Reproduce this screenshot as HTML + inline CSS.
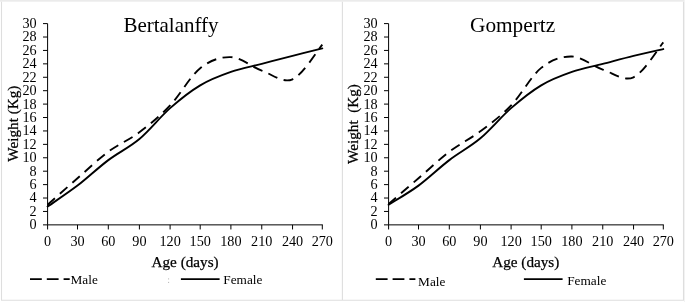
<!DOCTYPE html>
<html><head><meta charset="utf-8"><title>Growth curves</title>
<style>html,body{margin:0;padding:0;background:#fff}svg{display:block}text{font-family:"Liberation Serif",serif;fill:#000}</style>
</head><body>
<svg width="685" height="302" viewBox="0 0 685 302">
<rect x="0" y="0" width="685" height="302" fill="#fff"/>
<rect x="0" y="0" width="685" height="1.7" fill="#ebebeb"/>
<rect x="684" y="0" width="1" height="302" fill="#f3f3f3"/>
<path d="M1.5,1.7 V300 M342.4,1.7 V300 M683.5,1.7 V300 M1,300.2 H684" fill="none" stroke="#dedede" stroke-width="1.1"/>
<path d="M168.6,278.4 v1 M168.6,281.9 v1" stroke="#999" stroke-width="0.8" fill="none"/>
<defs><filter id="soft" x="0" y="0" width="685" height="302" filterUnits="userSpaceOnUse"><feGaussianBlur stdDeviation="0.35"/></filter></defs>
<g filter="url(#soft)">
<path d="M47.60,23.60 V224.86 H322.80" fill="none" stroke="#000" stroke-width="1.0"/>
<path d="M43.00,224.86 H47.60 M43.00,211.44 H47.60 M43.00,198.03 H47.60 M43.00,184.61 H47.60 M43.00,171.19 H47.60 M43.00,157.77 H47.60 M43.00,144.36 H47.60 M43.00,130.94 H47.60 M43.00,117.52 H47.60 M43.00,104.10 H47.60 M43.00,90.69 H47.60 M43.00,77.27 H47.60 M43.00,63.85 H47.60 M43.00,50.43 H47.60 M43.00,37.02 H47.60 M43.00,23.60 H47.60 M47.60,224.86 V229.46 M77.50,224.86 V229.46 M108.30,224.86 V229.46 M139.40,224.86 V229.46 M170.10,224.86 V229.46 M200.20,224.86 V229.46 M230.90,224.86 V229.46 M261.75,224.86 V229.46 M292.55,224.86 V229.46 M322.30,224.86 V229.46 " fill="none" stroke="#000" stroke-width="1.0"/>
<text x="36.60" y="229.26" text-anchor="end" font-size="14.2">0</text>
<text x="36.60" y="215.84" text-anchor="end" font-size="14.2">2</text>
<text x="36.60" y="202.43" text-anchor="end" font-size="14.2">4</text>
<text x="36.60" y="189.01" text-anchor="end" font-size="14.2">6</text>
<text x="36.60" y="175.59" text-anchor="end" font-size="14.2">8</text>
<text x="36.60" y="162.17" text-anchor="end" font-size="14.2">10</text>
<text x="36.60" y="148.76" text-anchor="end" font-size="14.2">12</text>
<text x="36.60" y="135.34" text-anchor="end" font-size="14.2">14</text>
<text x="36.60" y="121.92" text-anchor="end" font-size="14.2">16</text>
<text x="36.60" y="108.50" text-anchor="end" font-size="14.2">18</text>
<text x="36.60" y="95.09" text-anchor="end" font-size="14.2">20</text>
<text x="36.60" y="81.67" text-anchor="end" font-size="14.2">22</text>
<text x="36.60" y="68.25" text-anchor="end" font-size="14.2">24</text>
<text x="36.60" y="54.83" text-anchor="end" font-size="14.2">26</text>
<text x="36.60" y="41.42" text-anchor="end" font-size="14.2">28</text>
<text x="36.60" y="28.00" text-anchor="end" font-size="14.2">30</text>
<text x="47.60" y="245.86" text-anchor="middle" font-size="14.2">0</text>
<text x="77.50" y="245.86" text-anchor="middle" font-size="14.2">30</text>
<text x="108.30" y="245.86" text-anchor="middle" font-size="14.2">60</text>
<text x="139.40" y="245.86" text-anchor="middle" font-size="14.2">90</text>
<text x="170.10" y="245.86" text-anchor="middle" font-size="14.2">120</text>
<text x="200.20" y="245.86" text-anchor="middle" font-size="14.2">150</text>
<text x="230.90" y="245.86" text-anchor="middle" font-size="14.2">180</text>
<text x="261.75" y="245.86" text-anchor="middle" font-size="14.2">210</text>
<text x="292.55" y="245.86" text-anchor="middle" font-size="14.2">240</text>
<text x="322.30" y="245.86" text-anchor="middle" font-size="14.2">270</text>
<text x="171.00" y="31.5" text-anchor="middle" font-size="21">Bertalanffy</text>
<text x="185.10" y="267.2" text-anchor="middle" font-size="15.2" stroke="#000" stroke-width="0.25">Age (days)</text>
<text transform="translate(17.50,123.65) rotate(-90)" text-anchor="middle" font-size="15.2" stroke="#000" stroke-width="0.25" style="white-space:pre">Weight (Kg)</text>
<path d="M47.60,206.55 C52.58,203.06 67.38,193.35 77.50,185.61 C87.62,177.88 97.98,167.89 108.30,160.12 C118.62,152.35 129.10,147.65 139.40,138.99 C149.70,130.32 159.97,117.07 170.10,108.13 C180.23,99.18 190.07,91.36 200.20,85.32 C210.33,79.28 220.64,75.48 230.90,71.90 C241.16,68.32 251.47,66.54 261.75,63.85 C272.02,61.17 282.46,58.37 292.55,55.80 C302.64,53.23 317.34,49.65 322.30,48.42" fill="none" stroke="#000" stroke-width="1.9" stroke-linecap="round"/>
<path d="M47.60,204.73 C52.58,200.32 67.38,187.07 77.50,178.23 C87.62,169.40 97.98,159.39 108.30,151.74 C118.62,144.08 129.10,140.00 139.40,132.28 C149.70,124.57 159.97,116.12 170.10,105.45 C180.23,94.77 190.07,76.26 200.20,68.21 C210.33,60.16 220.64,56.75 230.90,57.14 C241.16,57.53 251.47,66.87 261.75,70.56 C272.02,74.25 282.46,83.59 292.55,79.28 C302.64,74.98 317.34,50.49 322.30,44.73" fill="none" stroke="#000" stroke-width="1.9" stroke-dasharray="10 6.5"/>
<path d="M30,279.1 H69.7" stroke="#000" stroke-width="1.9" stroke-dasharray="11.8 5" fill="none"/>
<text x="70.5" y="284.4" font-size="13.3" fill="#505050">Male</text>
<path d="M180.9,279.1 H219.6" stroke="#000" stroke-width="1.9" fill="none"/>
<text x="223.3" y="284" font-size="13.3" fill="#505050">Female</text><path d="M388.60,23.60 V224.86 H663.80" fill="none" stroke="#000" stroke-width="1.0"/>
<path d="M384.00,224.86 H388.60 M384.00,211.44 H388.60 M384.00,198.03 H388.60 M384.00,184.61 H388.60 M384.00,171.19 H388.60 M384.00,157.77 H388.60 M384.00,144.36 H388.60 M384.00,130.94 H388.60 M384.00,117.52 H388.60 M384.00,104.10 H388.60 M384.00,90.69 H388.60 M384.00,77.27 H388.60 M384.00,63.85 H388.60 M384.00,50.43 H388.60 M384.00,37.02 H388.60 M384.00,23.60 H388.60 M388.60,224.86 V229.46 M418.50,224.86 V229.46 M449.30,224.86 V229.46 M480.40,224.86 V229.46 M511.10,224.86 V229.46 M541.20,224.86 V229.46 M571.90,224.86 V229.46 M602.75,224.86 V229.46 M633.55,224.86 V229.46 M663.30,224.86 V229.46 " fill="none" stroke="#000" stroke-width="1.0"/>
<text x="377.60" y="229.26" text-anchor="end" font-size="14.2">0</text>
<text x="377.60" y="215.84" text-anchor="end" font-size="14.2">2</text>
<text x="377.60" y="202.43" text-anchor="end" font-size="14.2">4</text>
<text x="377.60" y="189.01" text-anchor="end" font-size="14.2">6</text>
<text x="377.60" y="175.59" text-anchor="end" font-size="14.2">8</text>
<text x="377.60" y="162.17" text-anchor="end" font-size="14.2">10</text>
<text x="377.60" y="148.76" text-anchor="end" font-size="14.2">12</text>
<text x="377.60" y="135.34" text-anchor="end" font-size="14.2">14</text>
<text x="377.60" y="121.92" text-anchor="end" font-size="14.2">16</text>
<text x="377.60" y="108.50" text-anchor="end" font-size="14.2">18</text>
<text x="377.60" y="95.09" text-anchor="end" font-size="14.2">20</text>
<text x="377.60" y="81.67" text-anchor="end" font-size="14.2">22</text>
<text x="377.60" y="68.25" text-anchor="end" font-size="14.2">24</text>
<text x="377.60" y="54.83" text-anchor="end" font-size="14.2">26</text>
<text x="377.60" y="41.42" text-anchor="end" font-size="14.2">28</text>
<text x="377.60" y="28.00" text-anchor="end" font-size="14.2">30</text>
<text x="388.60" y="245.86" text-anchor="middle" font-size="14.2">0</text>
<text x="418.50" y="245.86" text-anchor="middle" font-size="14.2">30</text>
<text x="449.30" y="245.86" text-anchor="middle" font-size="14.2">60</text>
<text x="480.40" y="245.86" text-anchor="middle" font-size="14.2">90</text>
<text x="511.10" y="245.86" text-anchor="middle" font-size="14.2">120</text>
<text x="541.20" y="245.86" text-anchor="middle" font-size="14.2">150</text>
<text x="571.90" y="245.86" text-anchor="middle" font-size="14.2">180</text>
<text x="602.75" y="245.86" text-anchor="middle" font-size="14.2">210</text>
<text x="633.55" y="245.86" text-anchor="middle" font-size="14.2">240</text>
<text x="663.30" y="245.86" text-anchor="middle" font-size="14.2">270</text>
<text x="512.60" y="32" text-anchor="middle" font-size="21.3">Gompertz</text>
<text x="525.80" y="267.3" text-anchor="middle" font-size="15.2" stroke="#000" stroke-width="0.25">Age (days)</text>
<text transform="translate(358.40,124) rotate(-90)" text-anchor="middle" font-size="15.2" stroke="#000" stroke-width="0.25" style="white-space:pre">Weight  (Kg)</text>
<path d="M388.60,204.73 C393.58,201.55 408.38,193.05 418.50,185.61 C428.62,178.18 438.98,168.00 449.30,160.12 C459.62,152.24 470.10,146.98 480.40,138.32 C490.70,129.65 500.97,116.96 511.10,108.13 C521.23,99.30 531.07,91.36 541.20,85.32 C551.33,79.28 561.64,75.48 571.90,71.90 C582.16,68.32 592.48,66.54 602.75,63.85 C613.02,61.17 623.46,58.26 633.55,55.80 C643.64,53.34 658.34,50.21 663.30,49.09" fill="none" stroke="#000" stroke-width="1.9" stroke-linecap="round"/>
<path d="M388.60,204.06 C393.58,199.76 408.38,186.96 418.50,178.23 C428.62,169.51 438.98,159.56 449.30,151.74 C459.62,143.91 470.10,138.99 480.40,131.27 C490.70,123.56 500.97,116.01 511.10,105.45 C521.23,94.88 531.07,76.04 541.20,67.88 C551.33,59.71 561.64,56.19 571.90,56.47 C582.16,56.75 592.48,66.09 602.75,69.55 C613.02,73.02 623.46,81.80 633.55,77.27 C643.64,72.74 658.34,48.20 663.30,42.38" fill="none" stroke="#000" stroke-width="1.9" stroke-dasharray="10 6.5"/>
<path d="M375.8,279.1 H415.4" stroke="#000" stroke-width="1.9" stroke-dasharray="11.8 5" fill="none"/>
<text x="418.1" y="285.7" font-size="13.3" fill="#505050">Male</text>
<path d="M523.9,279.1 H562.6" stroke="#000" stroke-width="1.9" fill="none"/>
<text x="567.2" y="285" font-size="13.3" fill="#505050">Female</text>
</g>
</svg>
</body></html>
